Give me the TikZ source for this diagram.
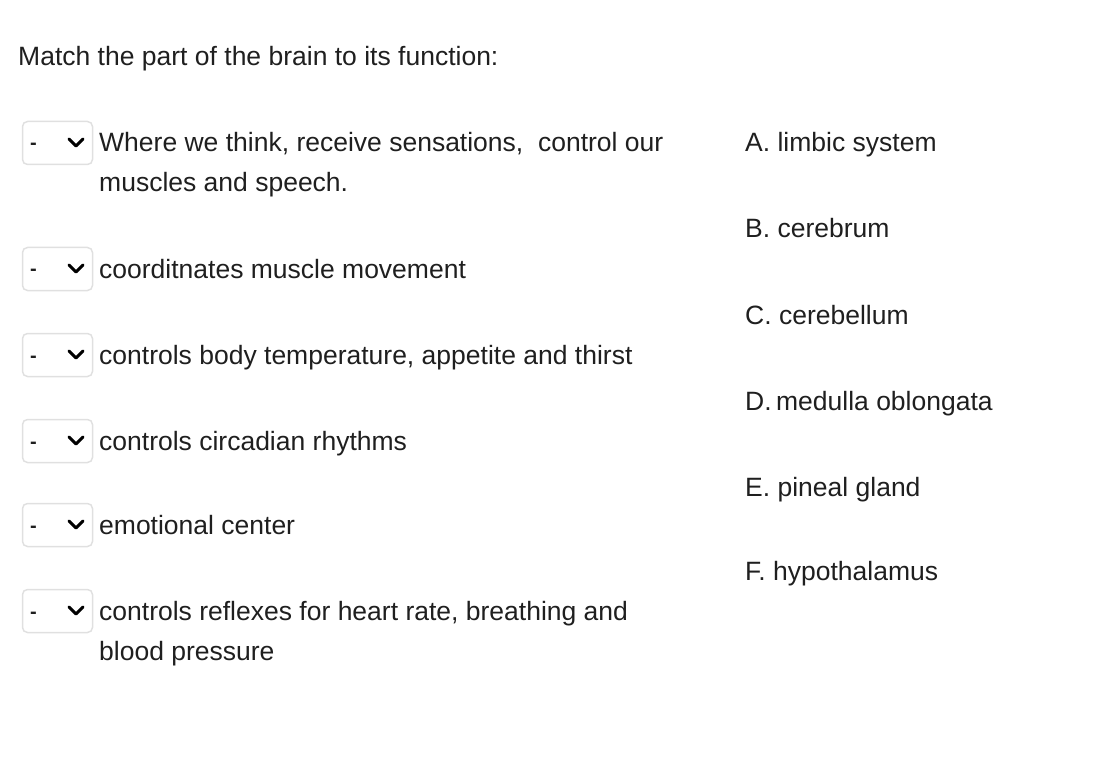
\documentclass[tikz,border=0pt]{standalone}
\usepackage{fontspec}
\setmainfont{Liberation Sans}
\begin{document}
\begin{tikzpicture}[x=1pt,y=-1pt,
  txt/.style={anchor=base west,inner sep=0pt,font=\fontsize{26.5}{40}\selectfont,text=black!88},
  sel/.style={draw=black!12,line width=1.5pt,rounded corners=5pt,minimum width=70pt,minimum height=43pt,inner sep=0pt}]
\useasboundingbox (0,0) rectangle (1106,778);
\node[txt] (title) at (18,66) {Match the part of the brain to its function:};
\foreach \i/\y in {1/143,2/269,3/355,4/441,5/525,6/611}{
  \node[sel] (s\i) at (57.5,\y) {};
  \node[txt,font=\fontsize{20}{24}\selectfont\bfseries] (d\i) at (30,\y+7) {-};
  \draw[line width=3pt,line cap=round,line join=round] (69,\y-4) -- (76,\y+3) -- (83,\y-4);
}
\node[txt] (l1a) at (99,152) {Where we think, receive sensations,\ \ control our};
\node[txt] (l1b) at (99,192) {muscles and speech.};
\node[txt] (l2) at (99,278) {coorditnates muscle movement};
\node[txt] (l3) at (99,364) {controls body temperature, appetite and thirst};
\node[txt] (l4) at (99,450) {controls circadian rhythms};
\node[txt] (l5) at (99,534) {emotional center};
\node[txt] (l6a) at (99,620) {controls reflexes for heart rate, breathing and};
\node[txt] (l6b) at (99,660) {blood pressure};
\node[txt] (rA) at (745,152) {A. limbic system};
\node[txt] (rB) at (745,238) {B. cerebrum};
\node[txt] (rC) at (745,324) {C. cerebellum};
\node[txt] (rD) at (745,410) {D.\,medulla oblongata};
\node[txt] (rE) at (745,496) {E. pineal gland};
\node[txt] (rF) at (745,580) {F. hypothalamus};
\end{tikzpicture}
\end{document}
